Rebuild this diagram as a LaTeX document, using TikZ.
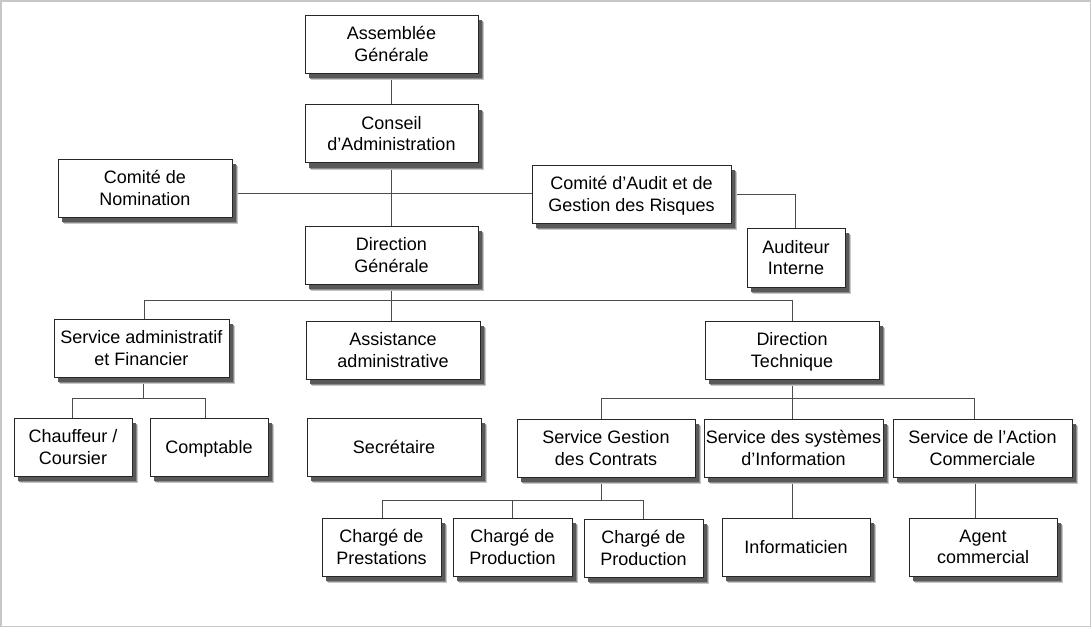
\documentclass[tikz,border=0pt]{standalone}
\usepackage{fontspec}
\setmainfont{Liberation Sans}
\usepackage{tikz}
\usetikzlibrary{shadows,positioning}
\pgfdeclarelayer{background}
\pgfsetlayers{background,main}

\tikzset{
  orgbox/.style={draw=black!85, fill=white, line width=0.9pt, align=center,
    minimum height=58, inner sep=2pt, text depth=0pt,
    general shadow={shadow xshift=6pt, shadow yshift=-7pt, fill=black!22},
    general shadow={shadow xshift=5pt, shadow yshift=-6pt, fill=black!45},
    general shadow={shadow xshift=4pt, shadow yshift=-5pt, fill=black!65},
    font=\fontsize{18}{21.5}\selectfont},
  link/.style={draw=black!70, line width=1pt}
}

\begin{document}
\begin{tikzpicture}[x=1pt, y=-1pt]
    % Frame
    \useasboundingbox (0,0) rectangle (1091,627);
    \draw[black!22, line width=1.5pt] (0.75,0.75) rectangle (1090.25,626.25);

    % Top of the chart
    \node[orgbox, minimum width=173] (ag) at (391.5,44) {Assemblée\\Générale};
    \node[orgbox, minimum width=173] (ca) at (391.5,133.5) {Conseil\\d’Administration};
    \node[orgbox, minimum width=174] (cn) at (145,188) {Comité de\\Nomination};
    \node[orgbox, minimum width=199] (cad) at (631.5,194) {Comité d’Audit et de\\Gestion des Risques};
    \node[orgbox, minimum width=173] (dg) at (391.5,255) {Direction\\Générale};
    \node[orgbox, minimum width=98, minimum height=59] (ai) at (796,257.5) {Auditeur\\Interne};

    % Second level
    \node[orgbox, minimum width=175] (saf) at (141.5,348) {Service administratif\\et Financier};
    \node[orgbox, minimum width=174] (aa) at (393,350) {Assistance\\administrative};
    \node[orgbox, minimum width=174] (dt) at (792,350) {Direction\\Technique};

    % Third level
    \node[orgbox, minimum width=118] (cc) at (73,447) {Chauffeur /\\Coursier};
    \node[orgbox, minimum width=118] (cpt) at (209,447) {Comptable};
    \node[orgbox, minimum width=174] (sec) at (394,447) {Secrétaire};
    \node[orgbox, minimum width=178] (sgc) at (606,448) {Service Gestion\\des Contrats};
    \node[orgbox, minimum width=179] (ssi) at (793.5,448) {Service des systèmes\\d’Information};
    \node[orgbox, minimum width=179] (sac) at (982.5,448) {Service de l’Action\\Commerciale};

    % Bottom level
    \node[orgbox, minimum width=119] (cp) at (381.5,547) {Chargé de\\Prestations};
    \node[orgbox, minimum width=119] (cpr1) at (512.5,547) {Chargé de\\Production};
    \node[orgbox, minimum width=119] (cpr2) at (643.5,548) {Chargé de\\Production};
    \node[orgbox, minimum width=148] (inf) at (796,547) {Informaticien};
    \node[orgbox, minimum width=148] (agc) at (983,547) {Agent\\commercial};

    % Bus coordinates
    \coordinate (bus1) at (391.5,300.5);
    \coordinate (bus2) at (143.5,398.5);
    \coordinate (bus3) at (792.5,398.5);
    \coordinate (bus4) at (601.5,500.5);

    % Connectors
    \begin{pgfonlayer}{background}
    \draw[link] (ag) -- (ca);
    \draw[link] (ca) -- (dg);
    \draw[link] (cn.east |- 0,193.5) -- (cad.west |- 0,193.5);
    \draw[link] (cad.east |- 0,194.5) -| (ai.north -| 795.5,0);
    \draw[link] (dg.south) -- (bus1);
    \draw[link] (saf.north -| 144.5,0) |- (bus1) -| (dt.north -| 792.5,0);
    \draw[link] (bus1) -- (391.5,321);
    \draw[link] (saf.south -| bus2) -- (bus2);
    \draw[link] (cc.north -| 72.5,0) |- (bus2) -| (205.5,418);
    \draw[link] (dt.south -| bus3) -- (bus3);
    \draw[link] (sgc.north -| bus4) |- (bus3) -| (974.5,419);
    \draw[link] (bus3) -- (ssi.north -| bus3);
    \draw[link] (sgc.south -| bus4) -- (bus4);
    \draw[link] (cp.north -| 382.5,0) |- (bus4) -| (cpr2.north -| 643.5,0);
    \draw[link] (cpr1.north -| 512.5,0) -- (bus4 -| 512.5,0);
    \draw[link] (ssi.south -| bus3) -- (inf.north -| bus3);
    \draw[link] (sac.south -| 975.5,0) -- (agc.north -| 975.5,0);
    \end{pgfonlayer}
\end{tikzpicture}
\end{document}
